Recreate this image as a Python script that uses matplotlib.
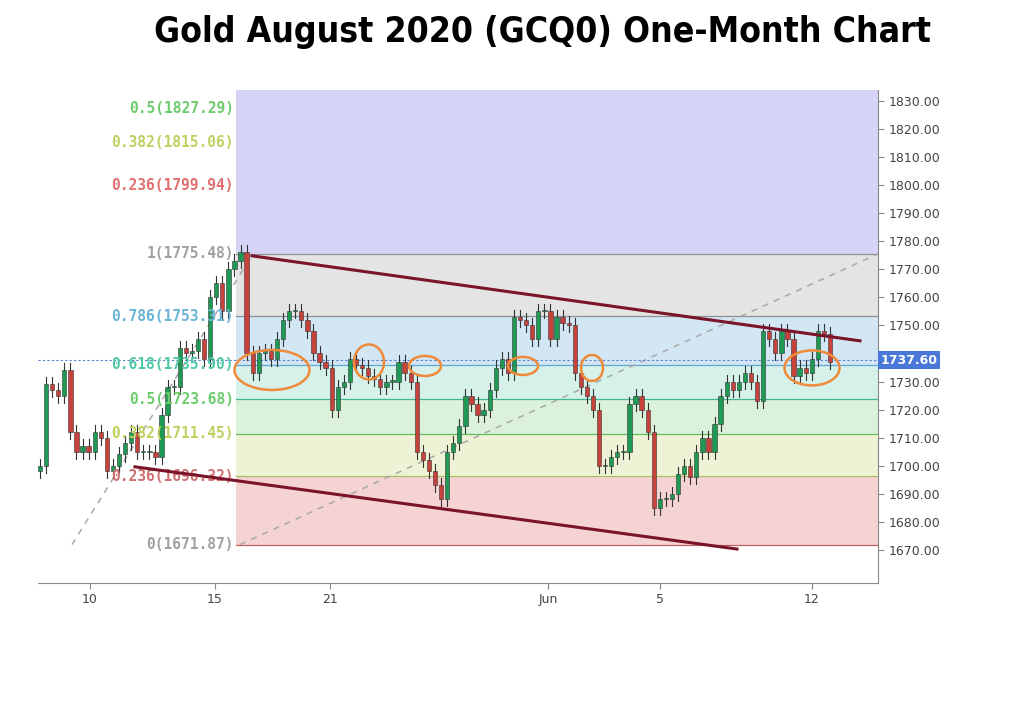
import matplotlib
matplotlib.use("Agg")
import matplotlib.pyplot as plt
from matplotlib.patches import Ellipse, Rectangle
import numpy as np

closes = [1700,1729,1727,1725,1734,1712,1705,1707,1705,1712,1710,1698,1700,1704,1708,1712,
          1705,1705,1705,1703,1718,1728,1728,1742,1740,1741,1745,1738,1760,1765,1755,1770,1773,1776,
          1740,1733,1740,1741,1738,1745,1752,1755,1755,1752,1748,1740,1737,1735,1720,1728,1730,1738,
          1736,1735,1732,1731,1728,1730,1730,1737,1733,1730,1705,1702,1698,1693,1688,1705,1708,1714,
          1725,1722,1718,1720,1727,1735,1738,1733,1753,1752,1750,1745,1755,1755,1745,1753,1751,1750,
          1733,1728,1725,1720,1700,1700,1703,1705,1705,1722,1725,1720,1712,1685,1688,1688,1690,1697,
          1700,1696,1705,1710,1705,1715,1725,1730,1727,1730,1733,1730,1723,1748,1745,1740,1748,1745,
          1732,1735,1733,1738,1748,1747,1737]
tick_labels = ["10", "15", "21", "Jun", "5", "12"]
tick_px = [90, 215, 330, 548, 660, 812]
fib_ratios = ["0", "0.236", "0.382", "0.5", "0.618", "0.786", "1", "0.236", "0.382", "0.5"]
fib_prices = [1671.87, 1696.32, 1711.45, 1723.68, 1735.90, 1753.31, 1775.48, 1799.94, 1815.06, 1827.29]
last_price = 1737.60

W, H = 1024, 711
fig = plt.figure(figsize=(W/100, H/100), dpi=100)
L, R, T, B = 38, 878, 90, 583
ax = fig.add_axes([L/W, (H-B)/H, (R-L)/W, (B-T)/H])
n = len(closes)
step = 790/(n-1)
def px(x):  # pixel x -> candle index
    return (x-40)/step
ax.set_xlim(px(L), px(R))
ax.set_ylim(1658.2, 1833.9)

band_cols = ["#f5d3d3", "#eef3d6", "#dcf1da", "#d5f1ea", "#d3e6f4", "#e4e4e4", "#d6d4f6"]
line_cols = ["#c06060", "#a8c060", "#60c060", "#40b890", "#60a8d0", "#909090"]
x0 = px(236)
edges = fib_prices[:7] + [1833.9]
for i in range(7):
    ax.add_patch(Rectangle((x0, edges[i]), px(R)-x0, edges[i+1]-edges[i], color=band_cols[i], lw=0, zorder=0))
for i in range(7):
    ax.plot([x0, px(R)], [fib_prices[i]]*2, color=line_cols[min(i,5)], lw=0.9, zorder=1)

lab_cols = ["#a0a0a0", "#d07070", "#c0d060", "#6ccc6c", "#50c8a8", "#6ab4d4", "#a0a0a0", "#e07070", "#c0d060", "#6ccc6c"]
for r, p, c in zip(fib_ratios, fib_prices, lab_cols):
    ax.text(px(234), p, f"{r}({p:.2f})", color=c, ha="right", va="center",
            family="DejaVu Sans Mono", fontsize=10.5, fontweight="bold", zorder=5)

ax.plot([px(72), px(253)], [1671.9, 1775.5], ls=(0, (4, 4)), color="#a8a8a8", lw=1.1, zorder=2)
ax.plot([px(240), px(878)], [1671.9, 1775.5], ls=(0, (4, 4)), color="#a8a8a8", lw=1.1, zorder=2)

opens = [closes[0]-2] + closes[:-1]
for i, (o, c) in enumerate(zip(opens, closes)):
    col = "#1e9a54" if c >= o else "#c8423c"
    ax.plot([i, i], [min(o, c)-2.5, max(o, c)+2.5], color="#333333", lw=0.8, zorder=3)
    ax.add_patch(Rectangle((i-0.35, min(o, c)), 0.7, max(abs(c-o), 0.4), facecolor=col,
                           edgecolor="#333333", lw=0.4, zorder=4))

ax.plot([px(252), px(860)], [1774.8, 1744.5], color="#7a1428", lw=2.2, zorder=6)
ax.plot([px(135), px(737)], [1699.6, 1670.3], color="#7a1428", lw=2.2, zorder=6)

ax.axhline(last_price, color="#5a7ed0", ls=(0, (2, 2)), lw=0.8, zorder=2)
ax.text(1.003, last_price, f"{last_price:.2f}", transform=ax.get_yaxis_transform(), ha="left", va="center",
        color="white", fontsize=9, fontweight="bold", bbox=dict(boxstyle="square,pad=0.2", fc="#4a78d8", ec="none"),
        zorder=7, clip_on=False)

ys = (1833.9-1658.2)/(B-T)
for cx, cy, w, h in [(272, 370, 75, 40), (369, 362, 30, 35), (425, 366, 32, 20),
                     (523, 366, 30, 18), (592, 368, 22, 26), (812, 368, 55, 35)]:
    ax.add_patch(Ellipse((px(cx), 1830-(cy-101)/2.806), w/step, h*ys, fill=False,
                         ec="#ee8a3a", lw=1.8, zorder=7))

ax.set_xticks([px(t) for t in tick_px])
ax.set_xticklabels(tick_labels, fontsize=9, color="#444444")
yt = np.arange(1670, 1831, 10)
ax.set_yticks(yt)
ax.yaxis.tick_right()
ax.set_yticklabels([f"{v:.2f}" if v != 1740 else "" for v in yt], fontsize=9, color="#444444")
for s in ["top", "left"]:
    ax.spines[s].set_visible(False)
ax.spines["right"].set_color("#888888")
ax.spines["bottom"].set_color("#888888")
ax.tick_params(length=4, color="#888888")

fig.text(542/W, 1-32/H, "Gold August 2020 (GCQ0) One-Month Chart", ha="center", va="center",
         fontsize=25.5, fontweight="bold", fontstretch="condensed", family="DejaVu Sans")
fig.savefig("out.png", dpi=100)
